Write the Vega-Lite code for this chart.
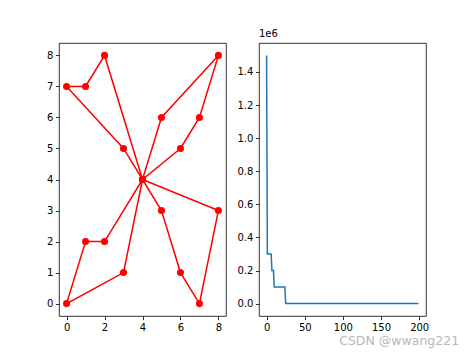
{
  "$schema": "https://vega.github.io/schema/vega-lite/v6.json",
  "background": "white",
  "padding": {"left": 46, "top": 28, "right": 5, "bottom": 5},
  "bounds": "flush",
  "spacing": 33,
  "config": {
    "font": "DejaVu Sans",
    "view": {"stroke": "#000000", "strokeWidth": 0.8},
    "axis": {
      "domain": false, "grid": false, "ticks": true, "tickColor": "#000000", "tickSize": 3.6, "tickWidth": 0.8,
      "labelFont": "DejaVu Sans", "labelFontSize": 10, "labelColor": "#000000", "labelPadding": 2.5, "title": null
    },
    "title": {"font": "DejaVu Sans", "fontWeight": "normal"}
  },
  "title": {"text": "CSDN @wwang221", "orient": "bottom", "anchor": "end", "color": "#b8b8b8", "fontSize": 12.5, "fontWeight": "normal", "dx": 30, "offset": 2},
  "datasets": {
    "path": [
      {"i": 0, "x": 4, "y": 4},
      {"i": 1, "x": 2, "y": 8},
      {"i": 2, "x": 1, "y": 7},
      {"i": 3, "x": 0, "y": 7},
      {"i": 4, "x": 3, "y": 5},
      {"i": 5, "x": 4, "y": 4},
      {"i": 6, "x": 5, "y": 6},
      {"i": 7, "x": 8, "y": 8},
      {"i": 8, "x": 7, "y": 6},
      {"i": 9, "x": 6, "y": 5},
      {"i": 10, "x": 4, "y": 4},
      {"i": 11, "x": 8, "y": 3},
      {"i": 12, "x": 7, "y": 0},
      {"i": 13, "x": 6, "y": 1},
      {"i": 14, "x": 5, "y": 3},
      {"i": 15, "x": 4, "y": 4},
      {"i": 16, "x": 2, "y": 2},
      {"i": 17, "x": 1, "y": 2},
      {"i": 18, "x": 0, "y": 0},
      {"i": 19, "x": 3, "y": 1},
      {"i": 20, "x": 4, "y": 4}
    ],
    "conv": [
      {"gen": 0, "v": 1500000},
      {"gen": 1, "v": 300000},
      {"gen": 6, "v": 300000},
      {"gen": 7, "v": 200000},
      {"gen": 9, "v": 200000},
      {"gen": 10, "v": 100000},
      {"gen": 24, "v": 100000},
      {"gen": 25, "v": 40},
      {"gen": 199, "v": 40}
    ]
  },
  "hconcat": [
    {
      "width": 167,
      "height": 273,
      "data": {"name": "path"},
      "encoding": {
        "x": {"field": "x", "type": "quantitative", "scale": {"domain": [-0.4, 8.4], "nice": false, "zero": false}, "axis": {"values": [0, 2, 4, 6, 8]}},
        "y": {"field": "y", "type": "quantitative", "scale": {"domain": [-0.4, 8.4], "nice": false, "zero": false}, "axis": {"values": [0, 1, 2, 3, 4, 5, 6, 7, 8]}}
      },
      "layer": [
        {"mark": {"type": "line", "color": "#ff0000", "strokeWidth": 1.5}, "encoding": {"order": {"field": "i", "type": "quantitative"}}},
        {"mark": {"type": "point", "filled": true, "color": "#ff0000", "opacity": 1, "size": 50}}
      ]
    },
    {
      "width": 167,
      "height": 273,
      "title": {"text": "1e6", "anchor": "start", "frame": "group", "fontSize": 10, "color": "#000000", "offset": 4},
      "data": {"name": "conv"},
      "mark": {"type": "line", "color": "#1f77b4", "strokeWidth": 1.5},
      "encoding": {
        "x": {"field": "gen", "type": "quantitative", "scale": {"domain": [-9.95, 208.95], "nice": false, "zero": false}, "axis": {"values": [0, 50, 100, 150, 200]}},
        "y": {"field": "v", "type": "quantitative", "scale": {"domain": [-75000, 1575000], "nice": false, "zero": false}, "axis": {"values": [0, 200000, 400000, 600000, 800000, 1000000, 1200000, 1400000], "labelExpr": "format(datum.value / 1000000, '.1f')"}}
      }
    }
  ]
}
